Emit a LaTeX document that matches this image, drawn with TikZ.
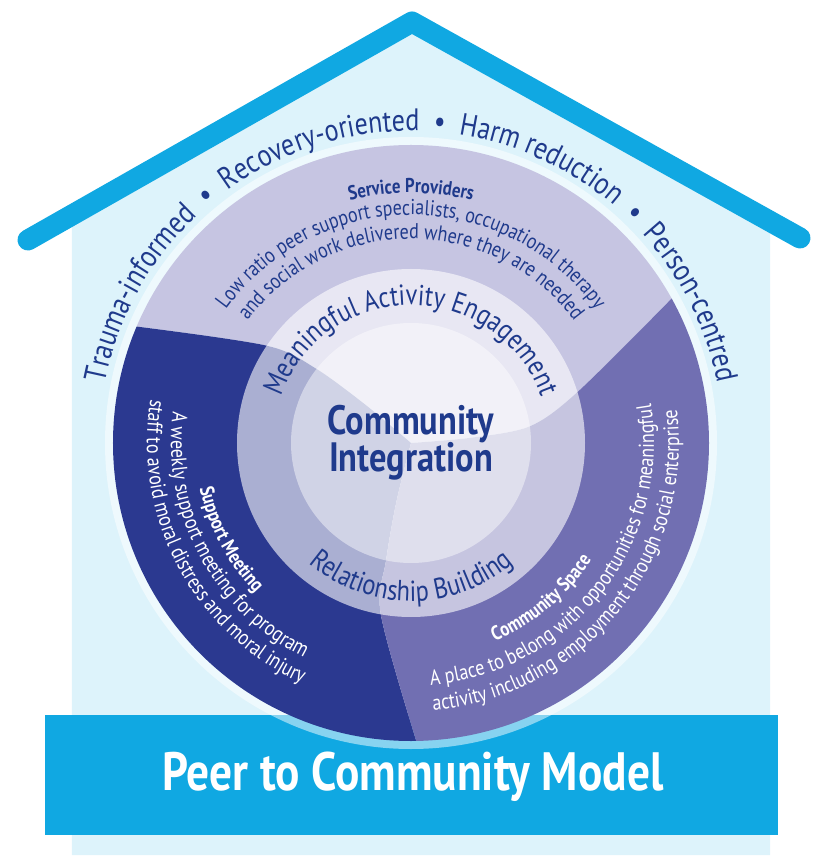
\documentclass[tikz,border=0pt]{standalone}
\usepackage{fontspec}
\setmainfont{PT Sans}[FakeStretch=0.84]
\usetikzlibrary{decorations.text}
\definecolor{roofc}{HTML}{10A8E2}
\definecolor{wallc}{HTML}{DDF3FB}
\definecolor{topc}{HTML}{C6C5E2}
\definecolor{leftc}{HTML}{2B3990}
\definecolor{rightc}{HTML}{716FB2}
\definecolor{navy}{HTML}{1F3A8C}
\newcommand{\fs}[1]{\fontsize{#1}{#1}\selectfont}
\tikzset{
  curv/.style={decorate,decoration={text along path,text align=center,text color=#1}},
}
\begin{document}
\begin{tikzpicture}[x=1pt,y=1pt]
\useasboundingbox (-411,443) rectangle (414,-418);
% house
\fill[wallc] (-339,-412)--(-339,228)--(1,421)--(359,222)--(359,-412)--cycle;
\draw[roofc,line width=21pt,line cap=round,line join=round] (-383,203)--(1,421)--(389,205);
% banner
\node[fill=roofc,minimum width=733pt,minimum height=120pt,inner sep=0pt] (banner) at (0.5,-332) {};
\node[text=white,font=\bfseries\fs{54}] (title) at (2,-334) {Peer to Community Model};
% halo
\fill[white,opacity=0.5] (0,0) circle[radius=306];
% sectors
\begin{scope}
\clip (0,0) circle[radius=298];
\fill[topc] plot[smooth] coordinates {(0,0) (5:60) (8:120) (17:174) (29:298) (31:330)}
  arc[start angle=31,end angle=159,radius=330]
  -- plot[smooth] coordinates {(159:330) (157:298) (146:174) (142:122) (140:60) (0,0)} -- cycle;
\fill[leftc] plot[smooth] coordinates {(0,0) (140:60) (142:122) (146:174) (157:298) (159:330)}
  arc[start angle=159,end angle=273,radius=330]
  -- plot[smooth] coordinates {(273:330) (271:298) (260:174) (258:120) (256:60) (0,0)} -- cycle;
\fill[rightc] plot[smooth] coordinates {(0,0) (256:60) (258:120) (260:174) (271:298) (273:330)}
  arc[start angle=273,end angle=391,radius=330]
  -- plot[smooth] coordinates {(31:330) (29:298) (17:174) (8:120) (5:60) (0,0)} -- cycle;
\end{scope}
\fill[white,opacity=0.6] (0,0) circle[radius=174];
\fill[white,opacity=0.45] (0,0) circle[radius=120];
\node[text=navy,font=\bfseries\fs{41},align=center,inner sep=0pt] (ci) at (0,0)
  {Community\\[-4pt]Integration};
% outer text
\path[curv=navy,decoration={text={|\fs{31}|Trauma-informed \ • \ Recovery-oriented \ • \ Harm reduction \ • \ Person-centred}}] (179:312) arc[start angle=179,end angle=1,radius=312];
% service providers
\path[curv=navy,decoration={text={|\bfseries\fs{20}|Service Providers}}] (150:250) arc[start angle=150,end angle=30,radius=250];
\path[curv=navy,decoration={text={|\fs{21.5}|Low ratio peer support specialists{,} occupational therapy}}] (165:228) arc[start angle=165,end angle=15,radius=228];
\path[curv=navy,decoration={text={|\fs{21.5}|and social work delivered where they are needed}}] (165:204) arc[start angle=165,end angle=15,radius=204];
% middle ring
\path[curv=navy,decoration={text={|\fs{29}|Meaningful Activity Engagement}}] (175:138) arc[start angle=175,end angle=5,radius=138];
\path[curv=navy,decoration={text={|\fs{29}|Relationship Building}}] (195:158) arc[start angle=195,end angle=345,radius=158];
% support meeting
\path[curv=white,decoration={text={|\bfseries\fs{20}|Support Meeting}}] (150:216) arc[start angle=150,end angle=266,radius=216];
\path[curv=white,decoration={text={|\fs{21.5}|A weekly support meeting for program}}] (150:240) arc[start angle=150,end angle=266,radius=240];
\path[curv=white,decoration={text={|\fs{21.5}|staff to avoid moral distress and moral injury}}] (150:264) arc[start angle=150,end angle=266,radius=264];
% community space
\path[curv=white,decoration={text={|\bfseries\fs{20}|Community Space}}] (250:215) arc[start angle=250,end angle=370,radius=215];
\path[curv=white,decoration={text={|\fs{21.5}|A place to belong with opportunities for meaningful}}] (262:243) arc[start angle=262,end angle=382,radius=243];
\path[curv=white,decoration={text={|\fs{21.5}|activity including employment through social enterprise}}] (261:268) arc[start angle=261,end angle=381,radius=268];
\end{tikzpicture}
\end{document}
